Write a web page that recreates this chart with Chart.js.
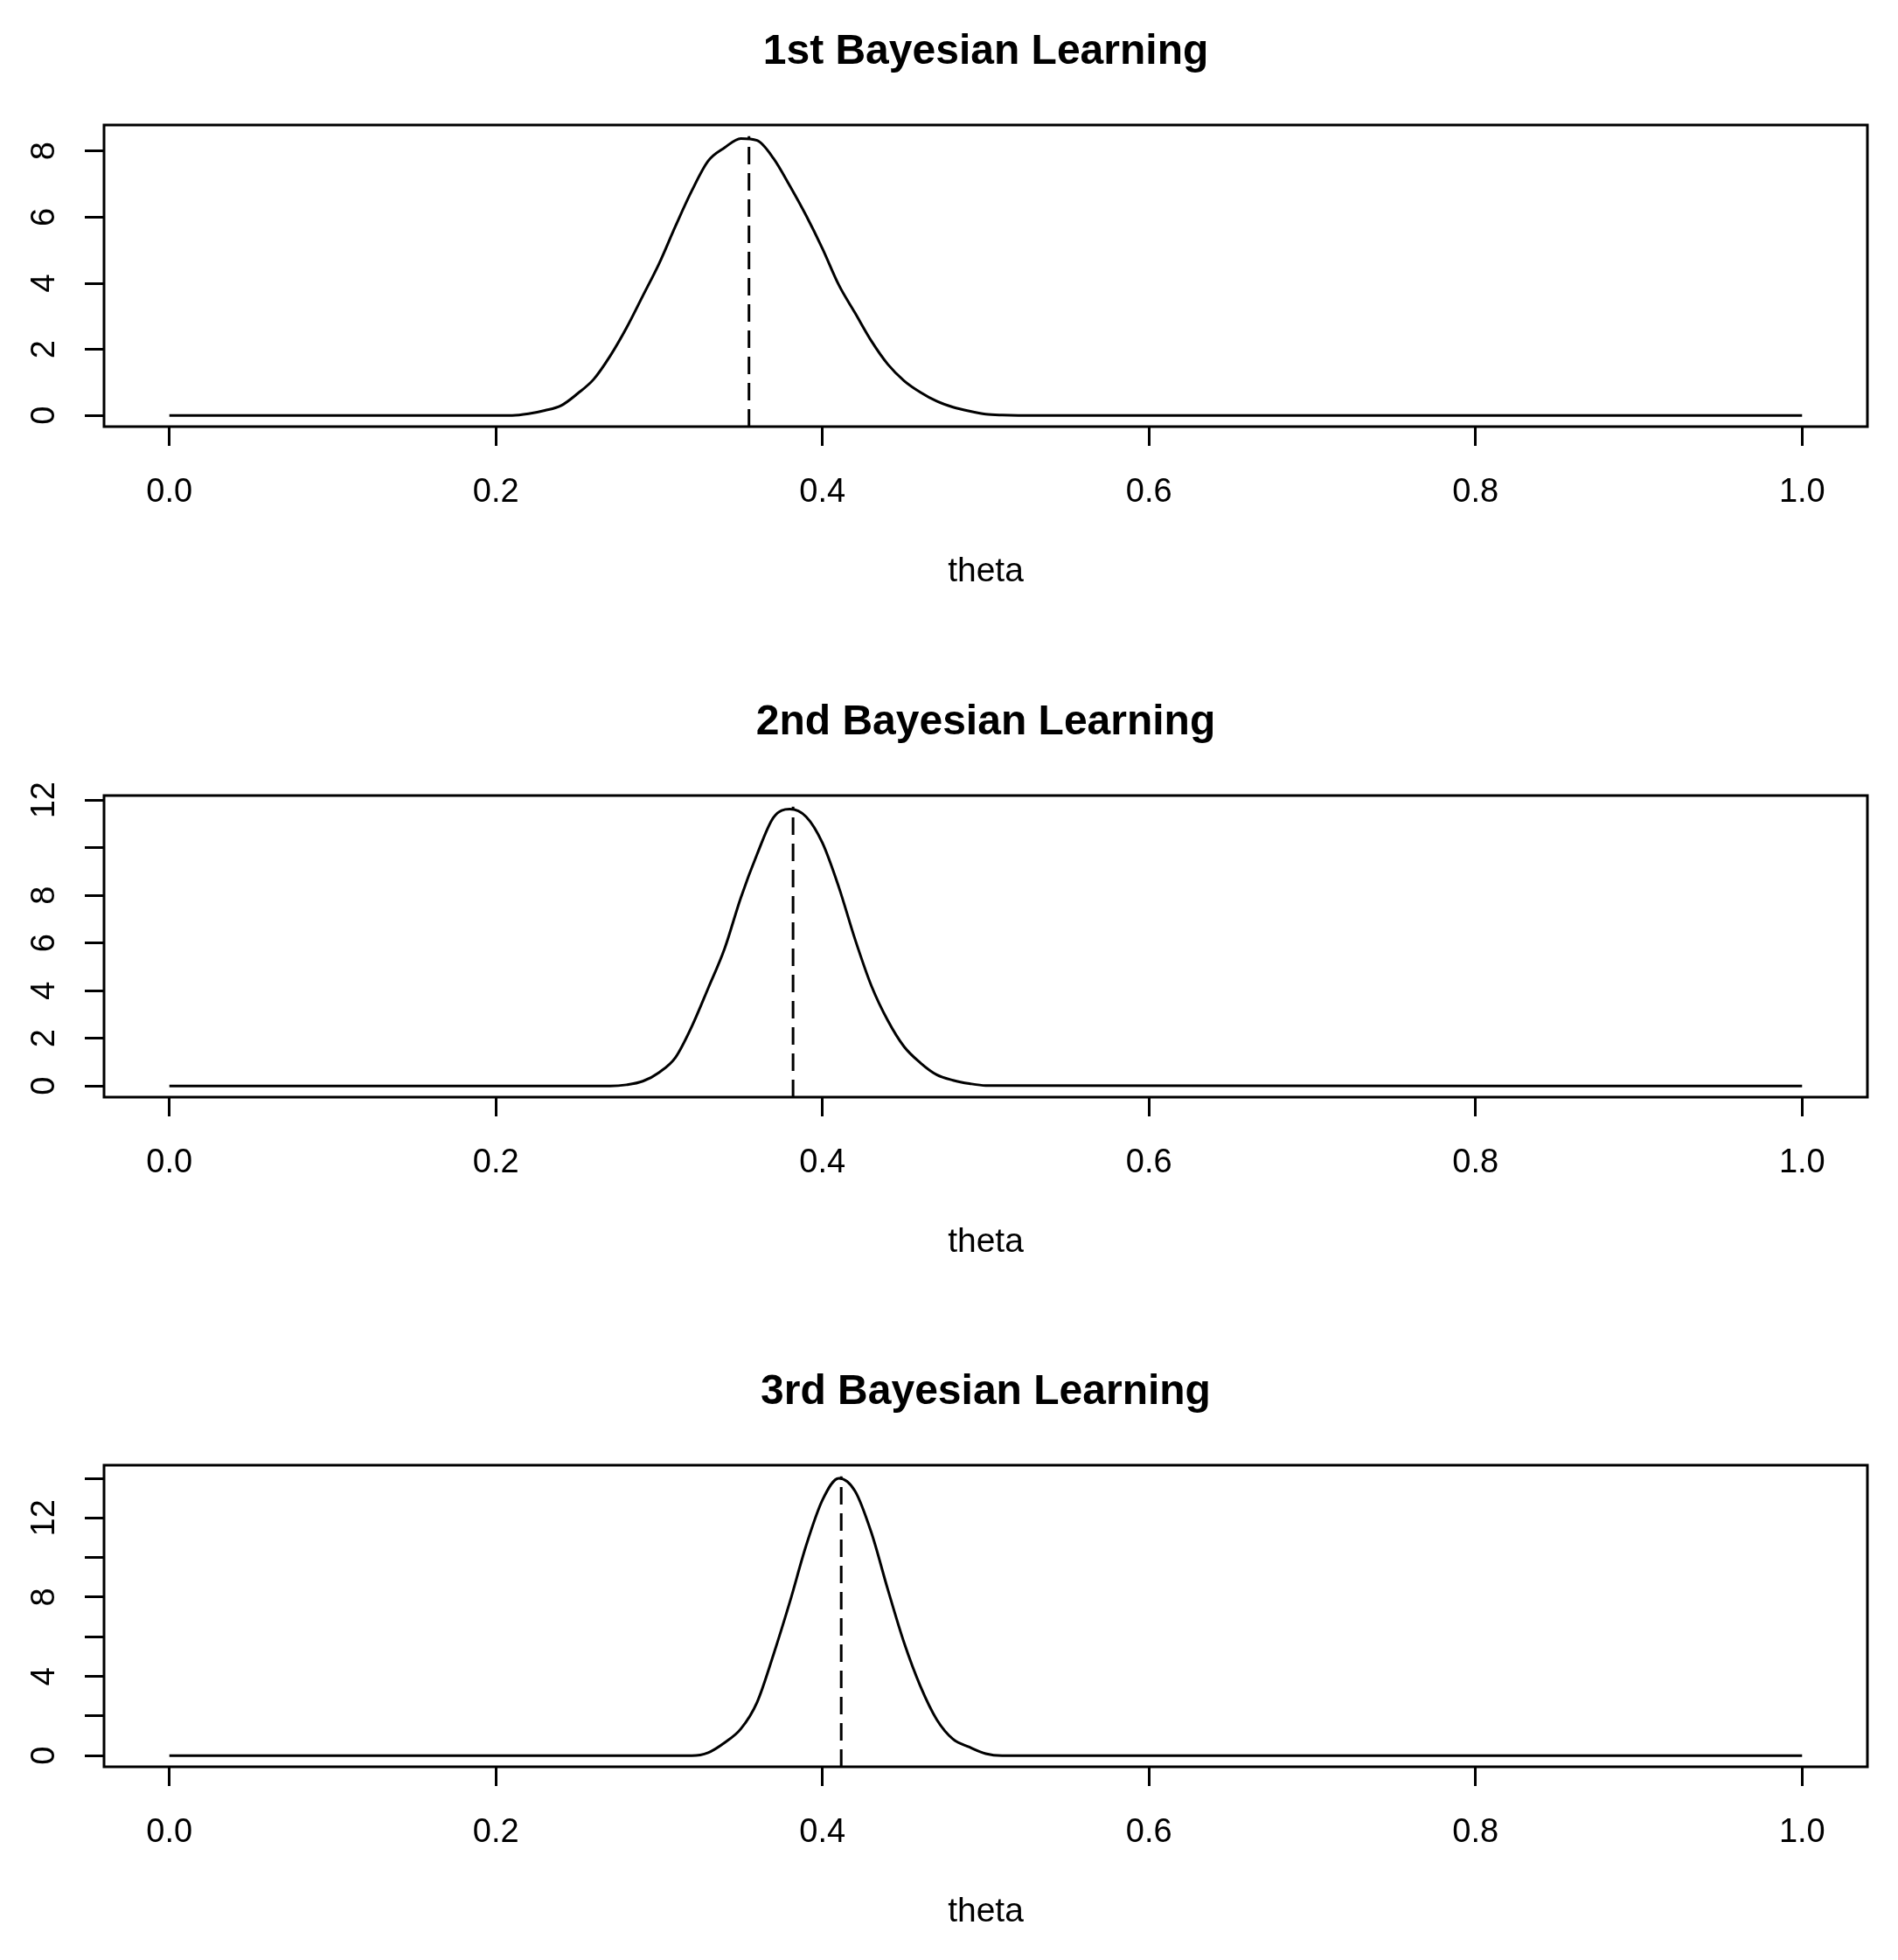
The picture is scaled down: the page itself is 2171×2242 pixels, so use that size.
<!DOCTYPE html>
<html lang="en">
<head>
<meta charset="UTF-8">
<title>Bayesian Learning</title>
<script src="https://cdn.jsdelivr.net/npm/chart.js"></script>
<style>
  html, body { margin: 0; padding: 0; background: #fff; overflow: hidden; }
  canvas { position: absolute; left: 0; }
</style>
</head>
<body>
<canvas id="c1" width="2171" height="700" style="top:0px"></canvas>
<canvas id="c2" width="2171" height="700" style="top:767px"></canvas>
<canvas id="c3" width="2171" height="700" style="top:1533px"></canvas>
<script>
// posterior densities
const titles = ['1st Bayesian Learning', '2nd Bayesian Learning', '3rd Bayesian Learning'];

const theta1 = [0.00, 0.21, 0.22, 0.23, 0.24, 0.25, 0.26, 0.27, 0.28, 0.29, 0.30, 0.31, 0.32, 0.33, 0.34, 0.35, 0.36,
                0.37, 0.38, 0.39, 0.40, 0.41, 0.42, 0.43, 0.44, 0.45, 0.46, 0.47, 0.48, 0.49, 0.50, 0.51, 0.52, 1.00];
const dens1  = [0, 0, 0.05, 0.15, 0.30, 0.66, 1.10, 1.80, 2.65, 3.62, 4.60, 5.73, 6.80, 7.70, 8.10, 8.38, 8.32,
                7.78, 6.95, 6.05, 5.05, 3.95, 3.10, 2.25, 1.55, 1.05, 0.70, 0.43, 0.25, 0.13, 0.04, 0.01, 0, 0];

const theta2 = [0.00, 0.27, 0.28, 0.29, 0.30, 0.31, 0.32, 0.33, 0.34, 0.35, 0.36, 0.37, 0.38,
                0.39, 0.40, 0.41, 0.42, 0.43, 0.44, 0.45, 0.46, 0.47, 0.48, 0.49, 0.50, 1.00];
const dens2  = [0, 0, 0.05, 0.20, 0.57, 1.20, 2.50, 4.10, 5.75, 7.90, 9.73, 11.27, 11.62,
                11.30, 10.20, 8.35, 6.15, 4.20, 2.75, 1.65, 0.97, 0.47, 0.24, 0.10, 0.02, 0];

const theta3 = [0.00, 0.32, 0.33, 0.34, 0.35, 0.36, 0.37, 0.38, 0.39, 0.40, 0.41,
                0.42, 0.43, 0.44, 0.45, 0.46, 0.47, 0.48, 0.49, 0.50, 0.51, 1.00];
const dens3  = [0, 0, 0.15, 0.65, 1.35, 2.70, 5.10, 7.75, 10.60, 12.90, 14.00,
                13.35, 11.25, 8.40, 5.70, 3.50, 1.82, 0.83, 0.43, 0.10, 0, 0];

// dashed line at the posterior mode
const peakX = [0.355, 0.382, 0.4115];
const peakY = [8.45, 11.72, 14.10];

const xTicks = [0, 0.2, 0.4, 0.6, 0.8, 1.0];
const xTickLabels = ['0.0', '0.2', '0.4', '0.6', '0.8', '1.0'];

const yTicks1 = [0, 2, 4, 6, 8];
const yLabels1 = ['0', '2', '4', '6', '8'];
const yTicks2 = [0, 2, 4, 6, 8, 10, 12];
const yLabels2 = ['0', '2', '4', '6', '8', '', '12'];
const yTicks3 = [0, 2, 4, 6, 8, 10, 12, 14];
const yLabels3 = ['0', '', '4', '', '8', '', '12', ''];

const FONT = "'Liberation Sans', Arial, sans-serif";
Chart.defaults.font.family = FONT;
Chart.defaults.color = '#000';

const boxPlugin = {
    id: 'box',
    afterDatasetsDraw(chart) {
        const a = chart.chartArea, ctx = chart.ctx;
        ctx.save();
        ctx.strokeStyle = '#000';
        ctx.lineWidth = 3;
        ctx.strokeRect(a.left, a.top, a.right - a.left, a.bottom - a.top);
        ctx.restore();
    }
};

function textWidth(str, px) {
    const c = document.createElement('canvas').getContext('2d');
    c.font = px + 'px ' + FONT;
    return c.measureText(str).width;
}

function makeChart(id, title, xs, ys, px, py, yTicks, yLabels) {
    const yMin = -0.04 * py, yMax = 1.04 * py;
    const widest = Math.max(...yLabels.map(l => textWidth(l, 38)));
    new Chart(document.getElementById(id), {
        type: 'line',
        data: {
            datasets: [
                {
                    data: xs.map((x, i) => ({ x: x, y: ys[i] })),
                    borderColor: '#000',
                    borderWidth: 3,
                    pointRadius: 0,
                    cubicInterpolationMode: 'monotone'
                },
                {
                    data: [{ x: px, y: yMin }, { x: px, y: py }],
                    borderColor: '#000',
                    borderWidth: 3,
                    borderDash: [20, 10],
                    pointRadius: 0
                }
            ]
        },
        options: {
            responsive: false,
            animation: false,
            devicePixelRatio: 1,
            layout: { padding: { left: 0, right: 35, top: 0, bottom: 12 } },
            plugins: {
                legend: { display: false },
                tooltip: { enabled: false },
                title: {
                    display: true,
                    text: title,
                    fullSize: false,
                    color: '#000',
                    font: { size: 48, weight: 'bold' },
                    padding: { top: 31.3, bottom: 54.1 }
                }
            },
            scales: {
                x: {
                    type: 'linear',
                    min: -0.04,
                    max: 1.04,
                    afterBuildTicks: s => { s.ticks = xTicks.map(v => ({ value: v })); },
                    afterFit: s => { s.height = 200; },
                    border: { display: false },
                    grid: { display: true, drawOnChartArea: false, drawTicks: true, tickLength: 22, tickWidth: 3, tickColor: '#000' },
                    ticks: {
                        font: { size: 38 },
                        color: '#000',
                        padding: 30.7,
                        maxRotation: 0,
                        autoSkip: false,
                        callback: (v, i) => xTickLabels[i]
                    },
                    title: { display: true, text: 'theta', font: { size: 39 }, color: '#000', padding: { top: 0, bottom: 10 } }
                },
                y: {
                    min: yMin,
                    max: yMax,
                    afterBuildTicks: s => { s.ticks = yTicks.map(v => ({ value: v })); },
                    afterFit: s => { s.width = 119; },
                    border: { display: false },
                    grid: { display: true, drawOnChartArea: false, drawTicks: true, tickLength: 22, tickWidth: 3, tickColor: '#000' },
                    ticks: {
                        font: { size: 38 },
                        color: '#000',
                        minRotation: 90,
                        maxRotation: 90,
                        crossAlign: 'center',
                        padding: 119 - 22 - 52 - widest / 2,
                        autoSkip: false,
                        callback: (v, i) => yLabels[i]
                    }
                }
            }
        },
        plugins: [boxPlugin]
    });
}

makeChart('c1', titles[0], theta1, dens1, peakX[0], peakY[0], yTicks1, yLabels1);
makeChart('c2', titles[1], theta2, dens2, peakX[1], peakY[1], yTicks2, yLabels2);
makeChart('c3', titles[2], theta3, dens3, peakX[2], peakY[2], yTicks3, yLabels3);
</script>
</body>
</html>
